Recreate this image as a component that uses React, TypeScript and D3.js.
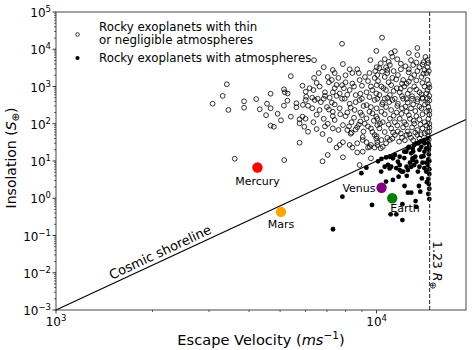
import React from 'react';
import * as d3 from 'd3';

// Escape velocity in km/s, insolation in S_earth
const thinAtmosphere: [number, number][] = [
  [5.4,1900],[3.41,1150],[3.31,560],[3.08,345],[3.45,235],[3.86,400],[3.86,270],[4.21,460],[4.32,245],[4.55,345],
  [4.67,260],[4.67,640],[4.52,170],[4.91,185],[5.03,124],[4.67,89],[4.78,83],[5.14,840],[5.17,700],[5.28,650],
  [5.27,415],[5.14,305],[5.4,155],[5.62,355],[5.62,277],[5.87,1050],[6.01,725],[6.03,530],[6.01,435],[5.89,320],
  [6.11,305],[5.75,132],[5.87,155],[5.75,103],[5.95,83],[6.11,61],[5.75,31],[3.61,11.5],[5.15,10.6],[6.38,5100],[6.38,1700],
  [7.8,14000],[10.4,20500],[9.98,9000],[13.4,10800],[12.6,7900],[13.4,7000],[11.4,8900],[11.1,7900],[11.2,6300],
  [11.6,5400],[9.56,5100],[10.6,5400],[7.85,4000],[14.4,5100],[14.0,4500],[12.8,5100],
  [6.84,3300],[7.3,2770],[7.4,2300],[8.24,2900],[8.4,2300],[8.7,2900],[6.18,900],[6.35,805],[7.04,1800],[7.25,1490],
  [7.6,1700],[7.8,1090],[8.0,1300],[8.4,1200],[8.85,1490],[9.2,1800],[9.5,2300],[9.86,1700],[6.64,1000],[6.9,700],
  [7.4,900],[7.67,650],[8.24,805],[8.6,590],[9.3,700],[9.6,1000],[9.98,650],[6.3,500],[6.55,470],[7.14,500],[7.95,470],[9.0,470],
  [10.0,3300],[10.2,3100],[10.7,3300],[10.8,2770],[11.0,3770],[12.6,2900],[13.0,3770],[13.6,3300],[14.1,2770],[14.4,3300],
  [10.05,2030],[10.6,1800],[10.8,2300],[11.2,1700],[11.65,2030],[12.1,1490],[12.4,1200],[12.8,1700],[13.1,2030],[13.8,1800],
  [14.3,2300],[14.4,1490],[10.0,1090],[10.35,1000],[10.7,805],[11.1,1090],[11.55,900],[11.8,700],[12.2,1000],[12.7,805],
  [13.1,1000],[13.6,700],[14.1,1000],[14.4,805],[10.2,590],[10.6,470],[11.0,590],[11.4,470],[12.0,550],[12.4,460],
  [12.9,550],[13.4,460],[13.9,500],[14.4,470],
  [6.41,434],[6.84,470],[7.25,370],[7.8,470],[8.24,345],[8.85,434],[9.3,318],[9.86,434],
  [6.3,260],[6.64,234],[7.0,280],[7.3,210],[7.67,260],[8.1,200],[8.54,234],[9.0,171],[9.5,210],[9.98,155],
  [6.0,136],[6.35,110],[6.84,136],[7.04,100],[7.4,126],[7.85,92],[8.35,110],[8.7,81],[9.18,100],[9.6,75],[10.05,92],
  [6.78,53],[7.14,36.6],[7.5,23],[7.67,27],[7.85,32],[7.6,68],[8.1,68],[8.35,58],[8.24,27],[8.4,23],[8.7,30],
  [9.05,44],[9.3,32],[9.6,27],[9.86,50],[7.85,12.6],[8.7,17],[9.05,17.8],[9.4,23],[10.05,32],[6.78,9.8],
  [10.05,470],[10.45,370],[10.8,500],[11.2,434],[11.65,345],[12.1,470],[12.5,370],[12.9,470],[13.4,400],[13.9,470],[14.4,370],
  [10.0,260],[10.35,210],[10.7,280],[11.1,234],[11.55,200],[12.0,260],[12.4,210],[12.8,260],[13.2,220],[13.8,260],[14.3,210],[14.5,280],
  [10.05,136],[10.45,110],[11.0,136],[11.4,110],[11.8,136],[12.2,110],[12.7,136],[13.1,100],[13.6,130],[14.1,110],[14.5,136],
  [10.2,75],[10.6,60],[11.1,75],[11.65,62],[12.1,80],[12.5,62],[12.9,80],[13.4,68],[13.9,75],[14.4,60],
  [10.0,46],[10.35,36.6],[10.8,42],[11.4,50],[12.0,42],[12.4,50],[12.8,42],[13.4,50],[14.1,55],[14.5,46],
  [10.05,27],[10.45,24],[10.7,30],[9.86,23],
  [7.04,14.5],[8.3,54],[9.05,36.6],[9.51,24],[9.98,40],[8.85,7.8],[9.6,11.8],[10.3,21.9],[11.0,36.6],
  [10.3,4200],[10.9,4600],[11.9,4100],[12.3,3500],[13.3,4400],[13.9,3900],[14.5,4300],[14.2,6200],
  [10.4,2500],[11.3,2600],[11.9,2900],[12.6,2400],[13.4,2600],[14.0,2200],[14.55,2600],
  [10.1,1400],[10.9,1300],[11.5,1550],[12.0,1200],[12.6,1350],[13.3,1450],[13.9,1250],[14.55,1150],
  [10.5,900],[11.3,760],[11.9,880],[12.5,640],[13.3,830],[13.8,620],[14.3,650],[14.6,950],
  [10.4,330],[10.95,380],[11.6,300],[12.3,290],[13.0,330],[13.6,290],[14.15,330],[14.6,420],[14.6,560],
  [10.6,180],[11.3,165],[11.95,185],[12.6,170],[13.3,160],[13.9,180],[14.6,175],[14.6,225],
  [10.25,100],[10.9,95],[11.6,90],[12.35,95],[13.05,120],[13.7,95],[14.3,90],[14.6,100],
  [11.25,58],[11.9,55],[12.65,52],[13.2,58],[13.75,52],[14.6,62],[14.6,80],
  [11.2,40],[11.75,33],[12.25,36],[13.0,36],[13.6,40],[14.55,38],
  [8.0,2000],[8.8,2300],[9.4,1400],[9.9,2600],[8.5,1000],[9.0,1050],[9.7,800],[8.9,640],[9.5,520],[8.1,600],[7.9,900],
  [8.6,380],[9.1,300],[9.6,280],[8.3,270],[8.9,200],[9.7,190],[8.0,160],[8.5,145],[9.3,140],[9.8,120],[8.9,115],
  [8.2,85],[8.8,95],[9.4,85],[9.7,60],[9.1,62],[8.6,70],
  [6.6,2300],[7.1,1300],[6.5,1250],[7.5,1100],[6.9,560],[7.3,700],[7.5,560],[6.7,380],[7.4,330],[7.1,240],
  [6.5,175],[7.3,160],[7.7,180],[6.9,85],[7.3,75],[6.5,72],
];

const withAtmosphere: [number, number][] = [
  [7.31,0.147],[7.82,1.1],[9.67,0.66],[11.06,0.37],[11.52,0.37],[12.03,0.26],[12.03,0.69],[13.23,0.84],[13.3,0.59],
  [12.52,1.41],[12.82,1.41],[13.68,1.5],[13.55,2.13],[12.22,2.13],[11.24,3.1],[10.7,2.8],[11.71,3.8],[12.42,4.0],
  [14.35,2.7],[13.84,3.4],[9.29,6.6],[8.96,4.7],[10.1,9.8],[10.98,13],[11.24,11.8],[10.85,7.8],[11.1,7.0],[10.98,6.3],
  [11.65,9.6],[11.8,7.8],[12.2,17.8],[12.52,21.9],[12.82,16.1],[13.1,26.9],[13.45,29.9],[12.95,11.8],[13.3,9.6],
  [13.78,13],[14.1,17.8],[14.28,21.9],[12.52,5.7],[12.82,7.0],[14.1,6.4],[14.45,7.8],[14.28,5.2],[13.78,34],[14.1,36.6],
  [14.45,40.7],[11.8,5.7],[12.1,5.2],[10.33,5.2],[10.35,11.4],[10.7,12.5],[11.1,13],[11.4,14.5],[11.8,13],[12.37,17.8],
  [12.6,24],[12.95,21.9],[13.3,29.9],[13.6,32],[13.78,24],[14.1,29.9],[10.6,7.0],[11.52,6.4],[11.95,5.2],[12.95,10.6],
  [13.1,7.8],[13.6,7.0],[13.45,5.2],[14.28,9.1],
  [14.5,30],[14.55,15],[14.5,11],[14.6,4.5],[14.5,3.3],[14.55,2.4],[14.6,1.8],[14.5,1.3],[14.6,0.95],[14.55,20],
  [14.6,25],[14.6,6],[14.6,10],[12.2,12],[13.0,18],[13.6,20],[12.7,9],[13.9,9],[12.4,7],[13.2,13],[14.0,13.5],
];

const planetNames = ['Mercury', 'Mars', 'Venus', 'Earth'];
const planetVel = [4250, 5030, 10360, 11186];
const planetIns = [6.67, 0.43, 1.91, 1.0];
const planetColors = ['#ff0000', '#ffa500', '#800080', '#008000'];

const shoreVel = [1000, 19000];
const shoreIns = [0.001, 130.3];
const radiusCutVel = 14630;

const xTicks = [3, 4];
const yTicks = [-3, -2, -1, 0, 1, 2, 3, 4, 5];

const W = 474, H = 350;
const L = 56, R = 466, T = 12, B = 310;
const FONT = 'DejaVu Sans, sans-serif';

export default function App() {
  const x = d3.scaleLog().domain([1000, 19000]).range([L, R]);
  const y = d3.scaleLog().domain([1e-3, 1e5]).range([B, T]);

  const xMinor: number[] = [];
  for (let m = 2; m <= 9; m++) xMinor.push(m * 1000);
  const yMinor: number[] = [];
  for (let e = -3; e < 5; e++) for (let m = 2; m <= 9; m++) yMinor.push(m * Math.pow(10, e));

  const shoreLine = d3.line<number>().x((_, i) => x(shoreVel[i])).y((_, i) => y(shoreIns[i]));
  const sx0 = x(shoreVel[0]), sy0 = y(shoreIns[0]), sx1 = x(shoreVel[1]), sy1 = y(shoreIns[1]);
  const angle = (Math.atan2(sy1 - sy0, sx1 - sx0) * 180) / Math.PI;
  const labelPos = 0.14;
  const lx = sx0 + (sx1 - sx0) * labelPos;
  const ly = sy0 + (sy1 - sy0) * labelPos;

  const fmtExp = (e: number) => (e < 0 ? '\u2212' + Math.abs(e) : String(e));

  const labelOffsets: Record<string, [number, number, string]> = {
    Mercury: [0, 17, 'middle'],
    Mars: [0, 16, 'middle'],
    Venus: [-6, 4, 'end'],
    Earth: [-2, 14, 'start'],
  };

  return (
    <svg width={W} height={H} style={{ position: 'absolute', left: 0, top: 0, background: '#fff' }} fontFamily={FONT}>
      {thinAtmosphere.map(([v, s], i) => (
        <circle key={'o' + i} cx={x(v * 1000)} cy={y(s)} r={2.4} fill="none" stroke="#000" strokeWidth={0.8} />
      ))}
      {withAtmosphere.map(([v, s], i) => (
        <circle key={'f' + i} cx={x(v * 1000)} cy={y(s)} r={2.4} fill="#000" />
      ))}
      <path d={shoreLine(shoreVel) || ''} stroke="#000" strokeWidth={1.2} fill="none" />
      <text
        x={lx}
        y={ly}
        transform={`rotate(${angle},${lx},${ly}) translate(0,-4)`}
        fontSize={13}
        textAnchor="start"
      >
        Cosmic shoreline
      </text>
      <line x1={x(radiusCutVel)} x2={x(radiusCutVel)} y1={T} y2={B} stroke="#444" strokeWidth={1.2} strokeDasharray="4,2" />
      <text
        transform={`translate(${x(radiusCutVel) + 3},265) rotate(90)`}
        fontSize={12.5}
        textAnchor="middle"
      >
        1.23 <tspan fontStyle="italic">R</tspan>
        <tspan fontSize={9} dy={3}>⊕</tspan>
      </text>
      {planetNames.map((n, i) => (
        <circle key={'p' + n} cx={x(planetVel[i])} cy={y(planetIns[i])} r={5.2} fill={planetColors[i]} />
      ))}
      {planetNames.map((n, i) => {
        const [dx, dy, anchor] = labelOffsets[n];
        return (
          <text key={'pl' + n} x={x(planetVel[i]) + dx} y={y(planetIns[i]) + dy} fontSize={11} textAnchor={anchor as any}>
            {n}
          </text>
        );
      })}
      <rect x={L} y={T} width={R - L} height={B - T} fill="none" stroke="#333" strokeWidth={0.9} />
      {xTicks.map((e) => (
        <g key={'xt' + e}>
          <line x1={x(Math.pow(10, e))} x2={x(Math.pow(10, e))} y1={B} y2={B + 3.5} stroke="#000" strokeWidth={0.8} />
          <text x={x(Math.pow(10, e))} y={B + 16} fontSize={12} textAnchor="middle">
            10<tspan fontSize={8.5} dy={-5}>{fmtExp(e)}</tspan>
          </text>
        </g>
      ))}
      {xMinor.map((v) => (
        <line key={'xm' + v} x1={x(v)} x2={x(v)} y1={B} y2={B + 2} stroke="#000" strokeWidth={0.6} />
      ))}
      {yTicks.map((e) => (
        <g key={'yt' + e}>
          <line x1={L - 3.5} x2={L} y1={y(Math.pow(10, e))} y2={y(Math.pow(10, e))} stroke="#000" strokeWidth={0.8} />
          <text x={L - 5} y={y(Math.pow(10, e)) + 5} fontSize={12} textAnchor="end">
            10<tspan fontSize={8.5} dy={-5}>{fmtExp(e)}</tspan>
          </text>
        </g>
      ))}
      {yMinor.map((v) => (
        <line key={'ym' + v} x1={L - 2} x2={L} y1={y(v)} y2={y(v)} stroke="#000" strokeWidth={0.6} />
      ))}
      <text x={261} y={345} fontSize={14.6} textAnchor="middle">
        Escape Velocity (<tspan fontStyle="italic">ms</tspan>
        <tspan fontSize={10.5} dy={-6}>−1</tspan>
        <tspan dy={6}>)</tspan>
      </text>
      <text transform={`translate(16,158) rotate(-90)`} fontSize={14} textAnchor="middle">
        Insolation (<tspan fontStyle="italic">S</tspan>
        <tspan fontSize={10} dy={3}>⊕</tspan>
        <tspan dy={-3}>)</tspan>
      </text>
      <circle cx={77.5} cy={34.5} r={1.8} fill="none" stroke="#000" strokeWidth={0.8} />
      <text x={99} y={31} fontSize={11.8}>Rocky exoplanets with thin</text>
      <text x={99} y={44} fontSize={11.8}>or negligible atmospheres</text>
      <circle cx={77.5} cy={58} r={2.1} fill="#000" />
      <text x={99} y={62} fontSize={11.8}>Rocky exoplanets with atmospheres</text>
    </svg>
  );
}
